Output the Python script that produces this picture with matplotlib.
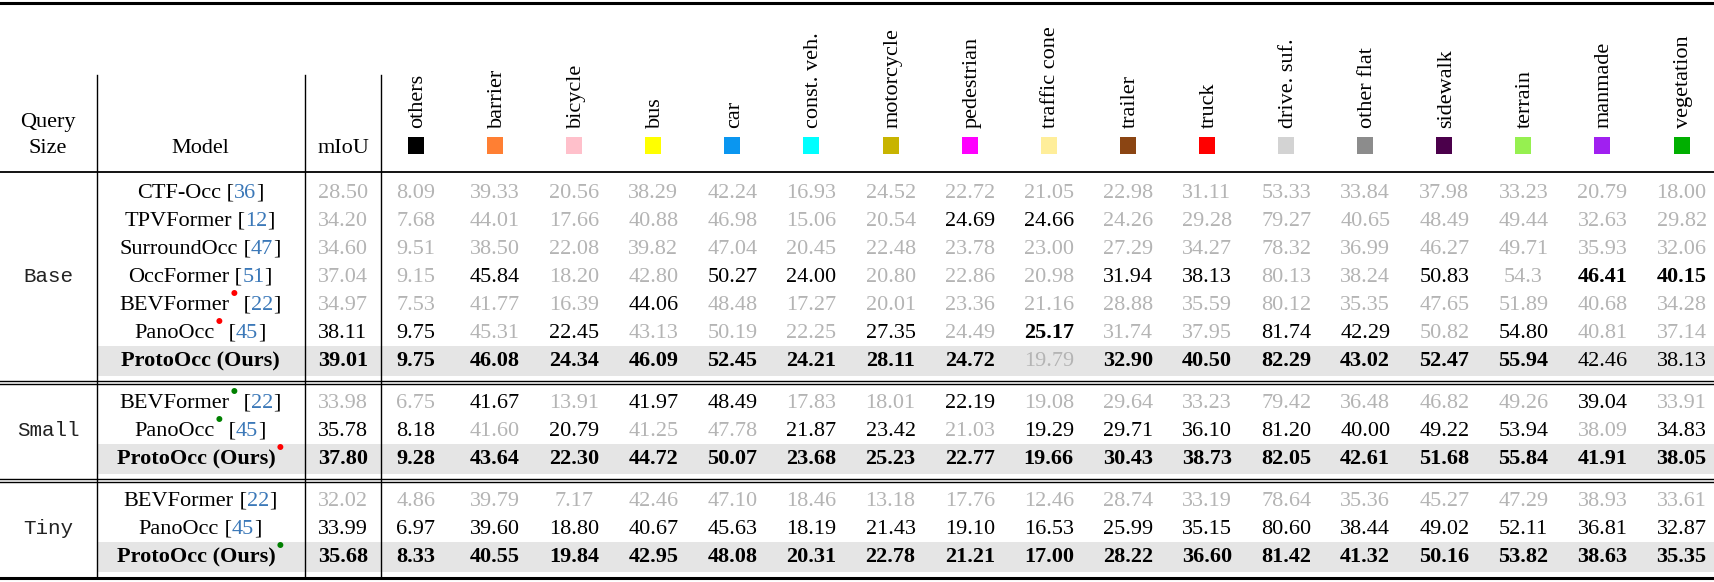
import matplotlib.pyplot as plt
from matplotlib.patches import Rectangle

# ---- data ----
classes = ['others', 'barrier', 'bicycle', 'bus', 'car', 'const. veh.', 'motorcycle',
           'pedestrian', 'traffic cone', 'trailer', 'truck', 'drive. suf.', 'other flat',
           'sidewalk', 'terrain', 'manmade', 'vegetation']
class_colors = ['#000000', '#ff7f33', '#ffc0cb', '#ffff00', '#0a96f0', '#00ffff', '#c8b400',
                '#ff00ff', '#ffee9a', '#8b4513', '#ff0000', '#d3d3d3', '#8c8c8c',
                '#4b004b', '#96f050', '#a020f0', '#00af00']

sections = ['Base', 'Small', 'Tiny']
section_rows = [7, 3, 3]

models = ['CTF-Occ', 'TPVFormer', 'SurroundOcc', 'OccFormer', 'BEVFormer', 'PanoOcc', 'ProtoOcc (Ours)',
          'BEVFormer', 'PanoOcc', 'ProtoOcc (Ours)',
          'BEVFormer', 'PanoOcc', 'ProtoOcc (Ours)']
refs = ['36', '12', '47', '51', '22', '45', None, '22', '45', None, '22', '45', None]
dots = [None, None, None, None, 'red', 'red', None, 'green', 'green', 'red', None, None, 'green']

values = [
    ['28.50', '8.09', '39.33', '20.56', '38.29', '42.24', '16.93', '24.52', '22.72', '21.05', '22.98', '31.11', '53.33', '33.84', '37.98', '33.23', '20.79', '18.00'],
    ['34.20', '7.68', '44.01', '17.66', '40.88', '46.98', '15.06', '20.54', '24.69', '24.66', '24.26', '29.28', '79.27', '40.65', '48.49', '49.44', '32.63', '29.82'],
    ['34.60', '9.51', '38.50', '22.08', '39.82', '47.04', '20.45', '22.48', '23.78', '23.00', '27.29', '34.27', '78.32', '36.99', '46.27', '49.71', '35.93', '32.06'],
    ['37.04', '9.15', '45.84', '18.20', '42.80', '50.27', '24.00', '20.80', '22.86', '20.98', '31.94', '38.13', '80.13', '38.24', '50.83', '54.3', '46.41', '40.15'],
    ['34.97', '7.53', '41.77', '16.39', '44.06', '48.48', '17.27', '20.01', '23.36', '21.16', '28.88', '35.59', '80.12', '35.35', '47.65', '51.89', '40.68', '34.28'],
    ['38.11', '9.75', '45.31', '22.45', '43.13', '50.19', '22.25', '27.35', '24.49', '25.17', '31.74', '37.95', '81.74', '42.29', '50.82', '54.80', '40.81', '37.14'],
    ['39.01', '9.75', '46.08', '24.34', '46.09', '52.45', '24.21', '28.11', '24.72', '19.79', '32.90', '40.50', '82.29', '43.02', '52.47', '55.94', '42.46', '38.13'],
    ['33.98', '6.75', '41.67', '13.91', '41.97', '48.49', '17.83', '18.01', '22.19', '19.08', '29.64', '33.23', '79.42', '36.48', '46.82', '49.26', '39.04', '33.91'],
    ['35.78', '8.18', '41.60', '20.79', '41.25', '47.78', '21.87', '23.42', '21.03', '19.29', '29.71', '36.10', '81.20', '40.00', '49.22', '53.94', '38.09', '34.83'],
    ['37.80', '9.28', '43.64', '22.30', '44.72', '50.07', '23.68', '25.23', '22.77', '19.66', '30.43', '38.73', '82.05', '42.61', '51.68', '55.84', '41.91', '38.05'],
    ['32.02', '4.86', '39.79', '7.17', '42.46', '47.10', '18.46', '13.18', '17.76', '12.46', '28.74', '33.19', '78.64', '35.36', '45.27', '47.29', '38.93', '33.61'],
    ['33.99', '6.97', '39.60', '18.80', '40.67', '45.63', '18.19', '21.43', '19.10', '16.53', '25.99', '35.15', '80.60', '38.44', '49.02', '52.11', '36.81', '32.87'],
    ['35.68', '8.33', '40.55', '19.84', '42.95', '48.08', '20.31', '22.78', '21.21', '17.00', '28.22', '36.60', '81.42', '41.32', '50.16', '53.82', '38.63', '35.35'],
]
# g = gray, k = black, b = bold  (first char is mIoU)
styles = [
    'gggggggggggggggggg',
    'ggggggggkkgggggggg',
    'gggggggggggggggggg',
    'ggkggkkgggkkggkgbb',
    'ggggkggggggggggggg',
    'kkgkgggkgbggkkgkgg',
    'bbbbbbbbbgbbbbbbkk',
    'ggkgkkggkgggggggkg',
    'kkgkggkkgkkkkkkkgk',
    'bbbbbbbbbbbbbbbbbb',
    'gggggggggggggggggg',
    'kkkkkkkkkkkkkkkkkk',
    'bbbbbbbbbbbbbbbbbb',
]

# ---- layout (pixel coordinates) ----
W, H = 1714, 582
fig = plt.figure(figsize=(W / 100, H / 100), dpi=100)
ax = fig.add_axes([0, 0, 1, 1])
ax.set_xlim(0, W)
ax.set_ylim(H, 0)
ax.axis('off')

serif = 'Liberation Serif'
fs = 16
gray = '#b4b4b4'
cite = '#3b78b8'

x_size, x_model, x_miou = 48, 200, 343
v_lines = [97, 305, 381]
x0, dx = 416, 79.1
head_line = 172
row_h, pad = 28, 7

# header
for i, (name, c) in enumerate(zip(classes, class_colors)):
    xc = x0 + i * dx
    ax.add_patch(Rectangle((xc - 8, 137), 16, 17, color=c, lw=0))
    ax.text(xc + 2, 128, name, rotation=90, ha='center', va='bottom',
            fontsize=fs, family=serif)
ax.text(x_size, 158, 'Query\nSize', ha='center', va='bottom', fontsize=fs,
        family=serif, linespacing=1.5)
ax.text(x_model, 158, 'Model', ha='center', va='bottom', fontsize=fs, family=serif)
ax.text(x_miou, 158, 'mIoU', ha='center', va='bottom', fontsize=fs, family=serif)

ax.plot([0, W], [3, 3], color='k', lw=2.2)
ax.plot([0, W], [head_line, head_line], color='k', lw=1.3)
for xv in v_lines:
    ax.plot([xv, xv], [75, H - 4], color='k', lw=1.0)

renderer = fig.canvas.get_renderer()

# body
y = head_line + pad
r = 0
for s, n in zip(sections, section_rows):
    top = y
    for k in range(n):
        yc = y + row_h / 2
        is_ours = models[r].startswith('ProtoOcc')
        if is_ours:
            ax.add_patch(Rectangle((v_lines[0] + 1, y - 1), W - v_lines[0], row_h + 2,
                                   color='#e5e5e5', lw=0, zorder=0))
        # model name with superscript dot and citation
        weight = 'bold' if is_ours else 'normal'
        parts = [(models[r], 'k', weight)]
        if dots[r]:
            parts.append(('•', dots[r], 'normal'))
        if refs[r]:
            parts += [(' [', 'k', 'normal'), (refs[r], cite, 'normal'), (']', 'k', 'normal')]
        widths = []
        arts = []
        for txt, col, wt in parts:
            t = ax.text(0, yc, txt, fontsize=fs, family=serif, color=col, weight=wt,
                        va='center', ha='left')
            widths.append(t.get_window_extent(renderer).width)
            arts.append(t)
        xs = x_model - sum(widths) / 2
        for (txt, col, wt), t, wd in zip(parts, arts, widths):
            t.set_x(xs)
            if txt == '•':
                t.set_y(yc - 9)
                t.set_fontsize(fs + 2)
            xs += wd
        for j, (v, st) in enumerate(zip(values[r], styles[r])):
            xc = x_miou if j == 0 else x0 + (j - 1) * dx
            ax.text(xc, yc, v, ha='center', va='center', fontsize=fs, family=serif,
                    color=gray if st == 'g' else 'k',
                    weight='bold' if st == 'b' else 'normal')
        y += row_h
        r += 1
    ax.text(x_size, (top + y) / 2, s, ha='center', va='center', fontsize=fs - 1,
            family='Liberation Mono', color='#222222')
    y += pad
    if r < len(models):
        ax.plot([0, W], [y - 1.5, y - 1.5], color='k', lw=1.0)
        ax.plot([0, W], [y + 1.5, y + 1.5], color='k', lw=1.0)
        y += pad

ax.plot([0, W], [H - 4, H - 4], color='k', lw=2.2)

fig.savefig('out.png', dpi=100)
